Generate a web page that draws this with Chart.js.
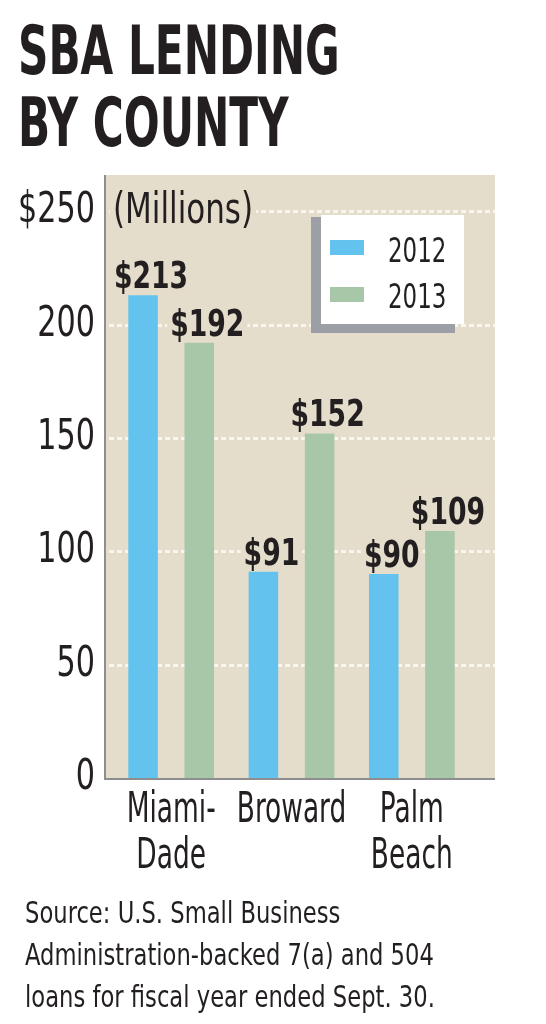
<!DOCTYPE html>
<html>
<head>
<meta charset="utf-8">
<script src="https://cdn.jsdelivr.net/npm/chart.js@4.4.1/dist/chart.umd.min.js"></script>
<style>
  html, body { margin: 0; padding: 0; background: #fff; }
  #wrap { position: relative; width: 546px; height: 1024px; overflow: hidden; }
  #chartBox { position: absolute; left: 0; top: 0; width: 546px; height: 1024px; }
  .title {
    position: absolute; left: 18px; top: 15px; margin: 0;
    font-family: 'DejaVu Sans Condensed', 'DejaVu Sans', sans-serif;
    font-weight: bold; font-size: 68px; line-height: 72px; color: #231f20;
    white-space: nowrap; transform-origin: left top; transform: scaleX(0.69);
  }
  .source {
    position: absolute; left: 25px; top: 892px; margin: 0;
    font-family: 'DejaVu Sans Condensed', 'DejaVu Sans', sans-serif;
    font-size: 30px; line-height: 42px; color: #231f20;
    white-space: nowrap; transform-origin: left top; transform: scaleX(0.84);
  }
</style>
</head>
<body>
<div id="wrap">
  <div id="chartBox"><canvas id="ch"></canvas></div>
  <h1 class="title">SBA LENDING<br>BY COUNTY</h1>
  <p class="source">Source: U.S. Small Business<br>Administration-backed 7(a) and 504<br>loans for fiscal year ended Sept. 30.</p>
</div>
<script>
const FONT = "'DejaVu Sans Condensed', 'DejaVu Sans', sans-serif";

const categories = [["Miami-", "Dade"], "Broward", ["Palm", "Beach"]];
const seriesNames = ["2012", "2013"];
const lending2012 = [213, 91, 90];
const lending2013 = [192, 152, 109];
const tickValues = [0, 50, 100, 150, 200, 250];
const tickLabels = ["0", "50", "100", "150", "200", "$250"];
const unitLabel = "(Millions)";

const BLUE = "#63c3ee";
const GREEN = "#a8c7a9";
const BEIGE = "#e5ddcb";
const INK = "#231f20";

// the original face is a narrow condensed one, so text gets squeezed sideways
function squeezed(ctx, text, x, y, align, sx, knock) {
  const w = ctx.measureText(text).width * sx;
  const left = align === "center" ? x - w / 2 : align === "right" ? x - w : x;
  if (knock) {
    ctx.fillStyle = BEIGE;
    ctx.fillRect(left - 3, y - 31, w + 6, 35);
  }
  ctx.save();
  ctx.translate(left, y);
  ctx.scale(sx, 1);
  ctx.textAlign = "left";
  ctx.fillStyle = INK;
  ctx.fillText(text, 0, 0);
  ctx.restore();
}

const panel = {
  id: "panel",
  beforeDraw(chart) {
    const { ctx, chartArea: a, scales: { y } } = chart;
    const L = a.left - 6, R = a.right + 23;
    ctx.save();
    ctx.fillStyle = BEIGE;
    ctx.fillRect(L, a.top, R - L, a.bottom - a.top + 1);

    ctx.strokeStyle = "#f8f5ee";
    ctx.lineWidth = 3;
    ctx.setLineDash([5, 3]);
    tickValues.forEach(v => {
      if (v === 0) return;
      const py = Math.round(y.getPixelForValue(v)) + 0.5;
      ctx.beginPath();
      ctx.moveTo(L + 4, py);
      ctx.lineTo(R, py);
      ctx.stroke();
    });
    ctx.setLineDash([]);

    ctx.strokeStyle = "#8e8e8e";
    ctx.lineWidth = 2;
    ctx.beginPath();
    ctx.moveTo(L, a.top);
    ctx.lineTo(L, a.bottom + 1);
    ctx.lineTo(R, a.bottom + 1);
    ctx.stroke();
    ctx.restore();
  },
  afterDatasetsDraw(chart) {
    const { ctx, chartArea: a, scales: { x, y } } = chart;
    ctx.save();
    ctx.textBaseline = "alphabetic";

    // value labels above the bars
    ctx.font = "bold 38px " + FONT;
    chart.data.datasets.forEach((ds, i) => {
      chart.getDatasetMeta(i).data.forEach((bar, j) => {
        squeezed(ctx, "$" + ds.data[j], bar.x + 8, bar.y - 7, "center", 0.78, true);
      });
    });

    // unit label
    ctx.font = "42px " + FONT;
    squeezed(ctx, unitLabel, a.left + 2, a.top + 48, "left", 0.82, true);

    // y tick labels
    ctx.font = "42px " + FONT;
    ctx.textBaseline = "middle";
    tickValues.forEach((v, i) => {
      squeezed(ctx, tickLabels[i], a.left - 16, y.getPixelForValue(v), "right", 0.8, false);
    });

    // x tick labels (one or two lines each)
    ctx.textBaseline = "alphabetic";
    categories.forEach((c, i) => {
      const lines = Array.isArray(c) ? c : [c];
      lines.forEach((t, k) => {
        squeezed(ctx, t, x.getPixelForTick(i), a.bottom + 44 + k * 46, "center", 0.7, false);
      });
    });

    // legend box with grey drop shadow
    const bx = a.right - 151, by = a.top + 40;
    ctx.fillStyle = "#9d9fa6";
    ctx.fillRect(bx - 10, by + 2, 144, 116);
    ctx.fillStyle = "#ffffff";
    ctx.fillRect(bx, by, 143, 109);
    ctx.font = "34px " + FONT;
    chart.data.datasets.forEach((ds, i) => {
      ctx.fillStyle = ds.backgroundColor;
      ctx.fillRect(bx + 9, by + 25 + i * 47, 34, 15);
      squeezed(ctx, ds.label, bx + 67, by + 47 + i * 46, "left", 0.75, false);
    });
    ctx.restore();
  }
};

new Chart(document.getElementById("ch"), {
  type: "bar",
  data: {
    labels: categories,
    datasets: [
      { label: seriesNames[0], data: lending2012, backgroundColor: BLUE },
      { label: seriesNames[1], data: lending2013, backgroundColor: GREEN }
    ]
  },
  options: {
    responsive: true,
    maintainAspectRatio: false,
    animation: { duration: 0 },
    events: [],
    layout: { padding: { top: 175, right: 74, bottom: 146, left: 0 } },
    datasets: { bar: { categoryPercentage: 0.934, barPercentage: 0.526 } },
    plugins: { legend: { display: false }, tooltip: { enabled: false } },
    scales: {
      x: {
        grid: { display: false, drawTicks: false },
        border: { display: false },
        ticks: { display: false, autoSkip: false },
        afterFit(scale) { scale.height = 100; }
      },
      y: {
        min: 0, max: 266,
        grid: { display: false, drawTicks: false },
        border: { display: false },
        afterBuildTicks(scale) { scale.ticks = tickValues.map(v => ({ value: v })); },
        ticks: { display: false },
        afterFit(scale) { scale.width = 111; }
      }
    }
  },
  plugins: [panel]
});
</script>
</body>
</html>
